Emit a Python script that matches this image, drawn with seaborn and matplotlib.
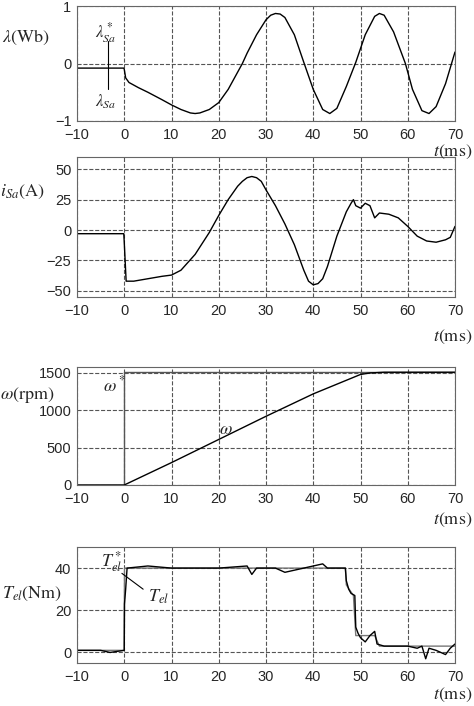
import matplotlib
matplotlib.use("Agg")
import matplotlib.pyplot as plt
import seaborn as sns

sns.set_style("ticks")
plt.rcParams['font.family'] = ['Liberation Sans', 'DejaVu Sans']
plt.rcParams['mathtext.fontset'] = 'stix'

# flux
t_lam = [-10,-0.1,0,0.3,1,3,5,8,10,12,14,15,16,18,20,22,24,25,26,28,30,31,32,33,34,36,38,40,42,43.5,45,47,49,51,53,54,55,57,59.5,61,63,64.5,66,68,70]
lam   = [-0.08,-0.08,-0.1,-0.25,-0.33,-0.42,-0.5,-0.63,-0.72,-0.8,-0.86,-0.87,-0.86,-0.8,-0.68,-0.45,-0.15,0.0,0.18,0.5,0.76,0.84,0.87,0.86,0.8,0.5,0.02,-0.45,-0.8,-0.87,-0.78,-0.4,0.02,0.5,0.82,0.87,0.84,0.55,0.0,-0.45,-0.82,-0.87,-0.75,-0.35,0.2]
# current
t_i = [-10,-0.1,0,0.4,2,5,8,10,12,15,18,20,22,24,25,26,27,28,29,30,32,34,36,38,39,40,41,42,43,45,47,48,48.5,49,50,51,52,53,54,56,58,60,62,64,66,68,69,70]
i_sa = [-3,-3,-10,-42,-42,-40,-38,-37,-33,-20,-2,12,25,36,40,43,44,43,40,33,20,5,-12,-33,-42,-45,-44,-40,-30,-5,15,22,25,20,18,22,20,10,14,13,10,3,-5,-9,-10,-8,-6,3]
# speed
t_w = [-10,0,10,20,30,40,50,52,55,70]
w = [0,0,300,610,920,1220,1480,1500,1510,1510]
t_wref = [-10,0,0,70]
w_ref = [0,0,1510,1510]
# torque
t_T = [-10,-5,-3,0,0.05,0.3,0.6,5,10,20,26,27,28,32,34,38,40,42,43,46.8,47,47.5,48,48.8,49,49.5,50,51,52,53,53.5,55,58,60,62,63,63.8,64.5,66,68,69,70]
T_el = [1,1,0,1,23,30,40,41,40,40,41,37,40,40,38,40,41,42,40,40,34,30,28,27,12,9,7,5,8,10,4,3,3,3,2,3,-3,2,1,-1,2,4]
t_Tr = [-10,0,0.05,46.8,47,48.5,49,53,54,70]
T_ref = [1,1,40,40,32,27,8,8,3,3]

fig = plt.figure(figsize=(4.74, 7.06), dpi=100)
W, H = 474, 706
def ax_at(top, bot, l=77, r=455):
    return fig.add_axes([l/W, 1-bot/H, (r-l)/W, (bot-top)/H])

axes = [ax_at(6,121), ax_at(157,297), ax_at(367,485), ax_at(547,663)]
data = [
    [(t_lam, lam, 'black')],
    [(t_i, i_sa, 'black')],
    [(t_wref, w_ref, '#555555'), (t_w, w, 'black')],
    [(t_Tr, T_ref, '#777777'), (t_T, T_el, 'black')],
]
ylims = [(-1,1),(-55,60),(0,1580),(-5,50)]
yticks = [[-1,0,1],[-50,-25,0,25,50],[0,500,1000,1500],[0,20,40]]
tlab_y = [152, 337, 520, 695]
for ax, d, yl, yt, ty in zip(axes, data, ylims, yticks, tlab_y):
    for x, y, c in d:
        sns.lineplot(x=x, y=y, ax=ax, color=c, lw=1.0, estimator=None, sort=False)
    ax.set_xlim(-10,70); ax.set_ylim(*yl)
    ax.set_xticks(range(-10,71,10)); ax.set_yticks(yt)
    ax.grid(True, ls='--', color='#555555', lw=0.8)
    ax.tick_params(labelsize=10.5, length=0)
    ax.tick_params(axis='x', pad=5)
    ax.tick_params(axis='y', pad=4)
    for s in ax.spines.values():
        s.set_color('#666666'); s.set_linewidth(0.8)
    fig.text(472/W, 1-ty/H, r'$t\mathrm{(ms)}$', ha='right', va='center', fontsize=13)

fig.text(2/W, 1-37/H, r'$\lambda\mathrm{(Wb)}$', fontsize=13, va='center')
fig.text(0/W, 1-192/H, r'$i_{Sa}\mathrm{(A)}$', fontsize=13, va='center')
fig.text(0/W, 1-395/H, r'$\omega\mathrm{(rpm)}$', fontsize=13, va='center')
fig.text(2/W, 1-594/H, r'$T_{el}\mathrm{(Nm)}$', fontsize=13, va='center')

a = axes[0]
a.text(-4, 0.45, r'$\lambda^*_{Sa}$', fontsize=12, ha='center')
a.text(-4, -0.75, r'$\lambda_{Sa}$', fontsize=12, ha='center')
a.plot([-3.5,-3.5],[0.4,-0.45], color='black', lw=0.8)
a = axes[2]
a.text(-4.5, 1250, r'$\omega^*$', fontsize=13)
a.text(20, 680, r'$\omega$', fontsize=13)
a = axes[3]
a.text(-5, 40.5, r'$T^*_{el}$', fontsize=13)
a.text(5, 24, r'$T_{el}$', fontsize=13)
a.plot([-0.5,4],[37.5,30], color='black', lw=0.8)

fig.savefig('out.png', dpi=100, facecolor='white')
